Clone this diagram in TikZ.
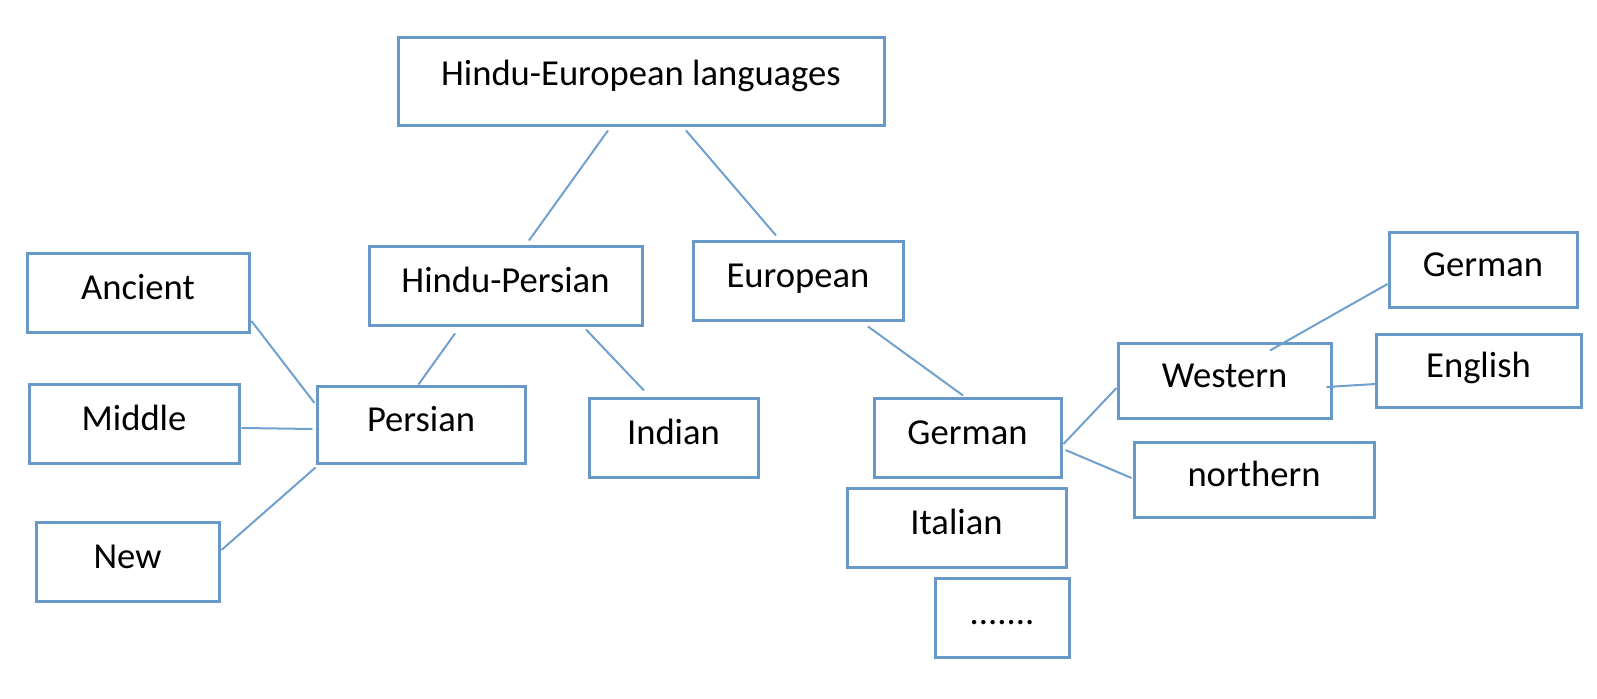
\documentclass[tikz,border=0pt]{standalone}
\usepackage{fontspec}
\setmainfont{Carlito}
\usetikzlibrary{calc}
\definecolor{boxblue}{RGB}{104,152,200}
\definecolor{lineblue}{RGB}{112,160,206}
\begin{document}
\begin{tikzpicture}[x=0.5pt, y=-0.5pt,
    langbox/.style={draw=boxblue, line width=1.5pt, inner sep=0pt,
      font=\fontsize{18.3}{22}\selectfont, text height=0.644em, text depth=0em},
    branch/.style={draw=lineblue, line width=1pt}]
  \useasboundingbox (0,0) rectangle (1597,699);
  % boxes
  \node[langbox, minimum width=243pt, minimum height=44pt, text depth=0.34em] (top) at (641,82) {Hindu-European languages};
  \node[langbox, minimum width=136.5pt, minimum height=39.5pt] (hp) at (505.5,286.5) {Hindu-Persian};
  \node[langbox, minimum width=105pt, minimum height=39.5pt] (eur) at (798,281.5) {European};
  \node[langbox, minimum width=111pt, minimum height=39.5pt] (anc) at (138,293.5) {Ancient};
  \node[langbox, minimum width=105pt, minimum height=39.5pt] (mid) at (134,424.5) {Middle};
  \node[langbox, minimum width=104pt, minimum height=38.5pt] (per) at (421,425.5) {Persian};
  \node[langbox, minimum width=84.5pt, minimum height=39.5pt] (ind) at (673.5,438.5) {Indian};
  \node[langbox, minimum width=91.5pt, minimum height=39.5pt] (new) at (127.5,562.5) {New};
  \node[langbox, minimum width=93.5pt, minimum height=39.5pt] (ger) at (967.5,438.5) {German};
  \node[langbox, minimum width=109.5pt, minimum height=39.5pt] (ita) at (956.5,528.5) {Italian};
  \node[langbox, minimum width=67pt, minimum height=39.5pt] (dots) at (1002,618.5) {.......};
  \node[langbox, minimum width=106.5pt, minimum height=37.5pt] (wes) at (1224.5,381.5) {Western};
  \node[langbox, minimum width=120pt, minimum height=37.5pt] (nor) at (1254,480.5) {northern};
  \node[langbox, minimum width=94pt, minimum height=37.5pt] (gerw) at (1483,270.5) {German};
  \node[langbox, minimum width=102.5pt, minimum height=36.5pt] (eng) at (1478.5,371.5) {English};
  % branches
  \draw[branch] ($(top.south)+(-33,3)$) -- ($(hp.north)+(23.5,-5)$);
  \draw[branch] ($(top.south)+(45,3)$) -- ($(eur.north)+(-22,-5)$);
  \draw[branch] ($(hp.south)+(-50.5,6)$) -- ($(per.north)+(-2.5,-1)$);
  \draw[branch] ($(hp.south)+(80.5,2)$) -- ($(ind.north)+(-29.5,-7)$);
  \draw[branch] ($(eur.south)+(70,4)$) -- ($(ger.north)+(-4.5,-2)$);
  \draw[branch] ($(anc.east)+(1,27.5)$) -- ($(per.west)+(-1,-22.5)$);
  \draw[branch] ($(mid.east)+(1,3.5)$) -- ($(per.west)+(-3,3.5)$);
  \draw[branch] ($(new.east)+(1,-12.5)$) -- ($(per.south west)+(0,2)$);
  \draw[branch] ($(ger.east)+(1,5.5)$) -- ($(wes.west)+(0,6.5)$);
  \draw[branch] ($(ger.east)+(3,11.5)$) -- ($(nor.west)+(-1,-2.5)$);
  \draw[branch] ($(wes.north)+(45.5,8)$) -- ($(gerw.west)+(0,13.5)$);
  \draw[branch] ($(wes.east)+(-6,5.5)$) -- ($(eng.west)+(1,12.5)$);
\end{tikzpicture}
\end{document}
